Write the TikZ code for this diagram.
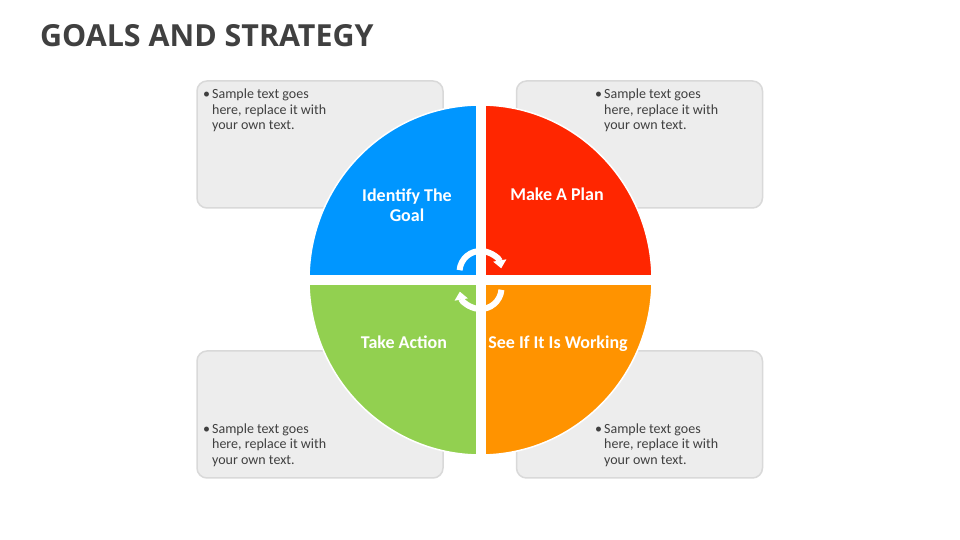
\documentclass[tikz,border=0pt]{standalone}
\usepackage{fontspec}
\setmainfont{Carlito}
\newfontfamily\titlefont{Open Sans}
\usetikzlibrary{arrows.meta}

\definecolor{goalblue}{HTML}{0096FF}
\definecolor{planred}{HTML}{FF2600}
\definecolor{workorange}{HTML}{FF9300}
\definecolor{actiongreen}{HTML}{92D050}
\definecolor{boxgray}{HTML}{EDEDED}
\definecolor{boxline}{HTML}{D9D9D9}
\definecolor{textgray}{HTML}{404040}

\newcommand{\sampletext}{%
  \begin{tabular}[t]{@{}l@{\hspace{2pt}}l@{}}
    \textbullet & Sample text goes\\
                & here, replace it with\\
                & your own text.
  \end{tabular}}

\begin{document}
\begin{tikzpicture}[x=1pt, y=1pt, >={Triangle[width=13pt,length=8pt]},
    box/.style={draw=boxline, fill=boxgray, line width=1.5pt, rounded corners=10pt,
        minimum width=246pt, minimum height=127pt, inner sep=0pt},
    note/.style={anchor=base west, inner sep=0pt, text=textgray,
        font=\fontsize{14}{15.5}\selectfont},
    qlabel/.style={anchor=base, inner sep=0pt, text=white,
        font=\bfseries\fontsize{18}{19.5}\selectfont}]
    \useasboundingbox (0,0) rectangle (960,540);
    \fill[white] (0,0) rectangle (960,540);

    % Title
    \node[anchor=base west, inner sep=0pt, text=textgray,
        font=\titlefont\bfseries\fontsize{30.4}{36}\selectfont] (title) at (40,493) {GOALS AND STRATEGY};

    % Boxes
    \node[box] (box1) at (320,395.5) {};
    \node[box] (box2) at (639.5,395.5) {};
    \node[box] (box3) at (320,125.5) {};
    \node[box] (box4) at (639.5,125.5) {};

    % Notes
    \node[note] (note1) at (203,441) {\sampletext};
    \node[note] (note2) at (595,441) {\sampletext};
    \node[note] (note3) at (203,106.5) {\sampletext};
    \node[note] (note4) at (595,106.5) {\sampletext};

    % Quarters
    \coordinate (ctr) at (480.5,260);
    \foreach \col/\a in {planred/0, goalblue/90, actiongreen/180, workorange/270}
        \fill[\col] (ctr) -- +(\a:171.5 and 175)
            arc[start angle=\a, delta angle=90, x radius=171.5, y radius=175] -- cycle;
    \draw[white, line width=1.5pt] (ctr) ellipse [x radius=171.5, y radius=175];
    \fill[white] (475.5,84) rectangle (485.5,436);
    \fill[white] (308,255) rectangle (653,265);

    % Labels
    \node[qlabel] (goal) at (407,338) {\begin{tabular}[t]{@{}c@{}}Identify The\\Goal\end{tabular}};
    \node[qlabel] (plan) at (557,339) {Make A Plan};
    \node[qlabel] (action) at (404,191) {Take Action};
    \node[qlabel] (check) at (558,191) {See If It Is Working};

    % Cycle arrows
    \coordinate (top) at (480.5,268);
    \coordinate (bot) at (480.5,252);
    \draw[->, white, line width=6pt] (top) ++(175:21) arc[start angle=175, end angle=10, radius=21];
    \draw[->, white, line width=6pt] (bot) ++(-5:21) arc[start angle=-5, end angle=-170, radius=21];
\end{tikzpicture}
\end{document}
